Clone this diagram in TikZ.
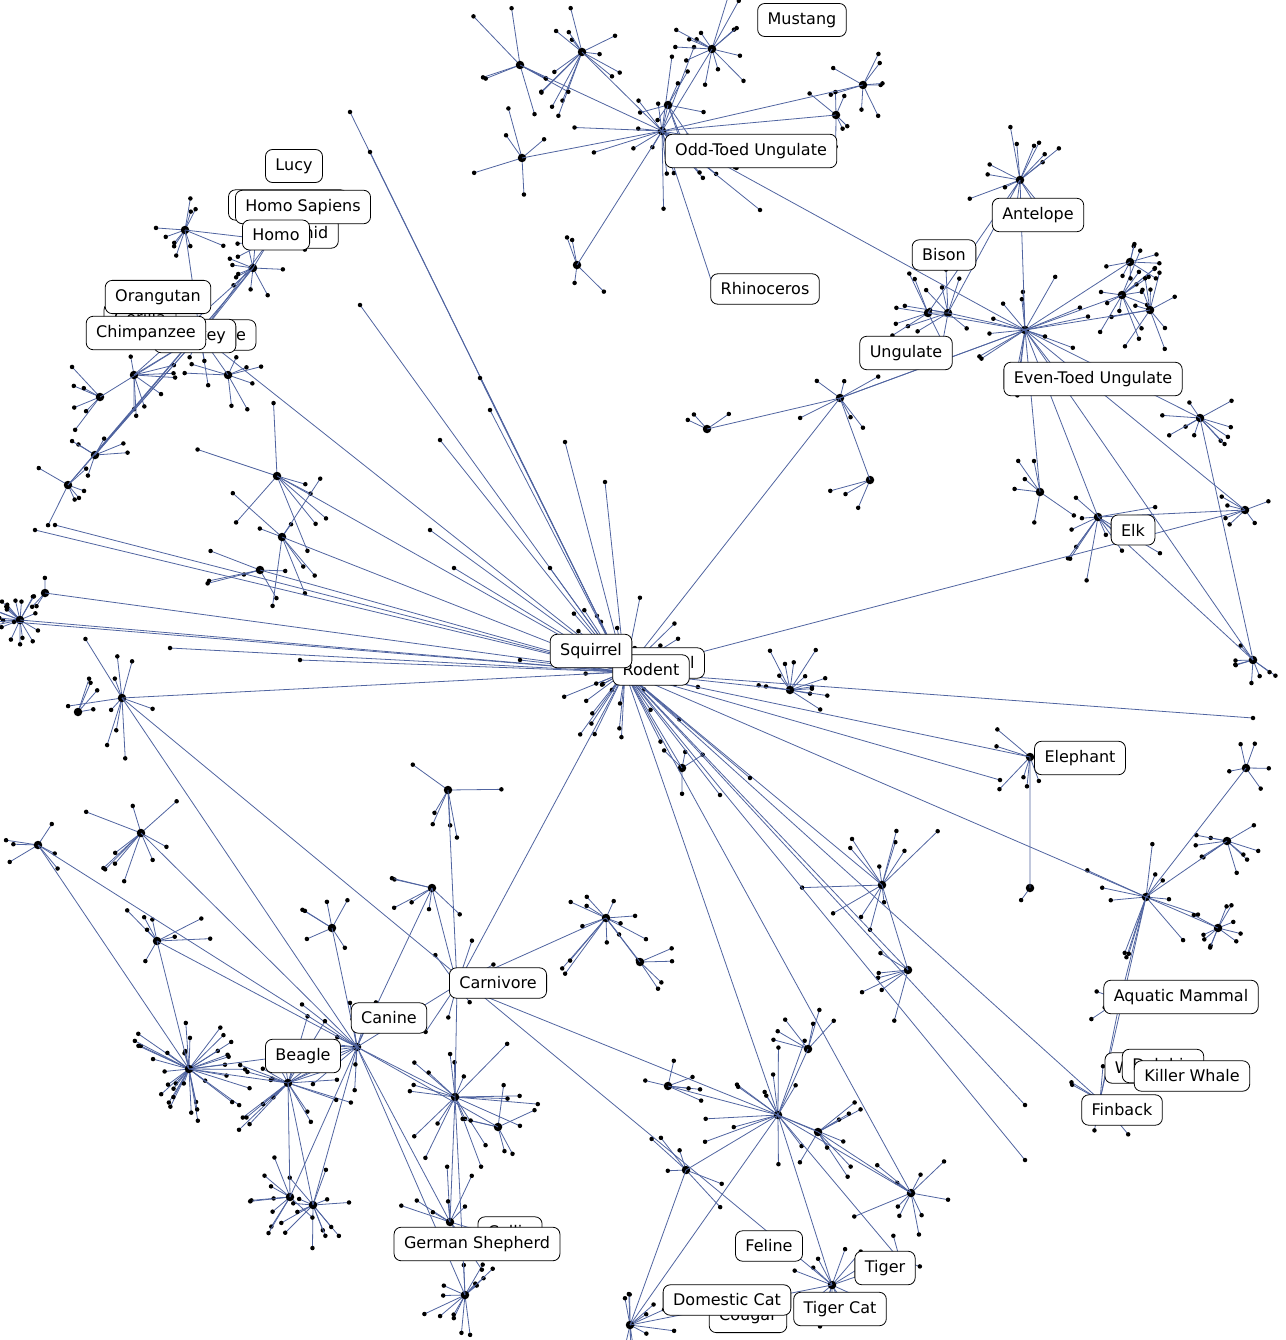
\documentclass[tikz,border=0pt]{standalone}
\usepackage{fontspec}
\setmainfont{DejaVu Sans}
\begin{document}
\begin{tikzpicture}[x=1pt,y=-1pt,
 edge/.style={draw={rgb,255:red,80;green,100;blue,160},line width=0.8pt},
 leaf/.style={circle,fill=black,inner sep=0pt,minimum size=4.5pt},
 hub/.style={circle,fill=black,inner sep=0pt,minimum size=8.5pt},
 lab/.style={draw=black,fill=white,rounded corners=7pt,line width=0.8pt,font=\fontsize{16}{18}\selectfont,inner xsep=10pt,inner ysep=9pt}]
\useasboundingbox (0,0) rectangle (1285,1340);
\pgfmathsetseed{7}
\newcommand\hubc[5]{\coordinate (#1) at (#2,#3);
 \foreach \i in {1,...,#4}{\pgfmathsetmacro\aa{rnd*360}\pgfmathsetmacro\rr{15+rnd*(#5-15)}
 \draw[edge] (#1) -- ++(\aa:\rr) node[leaf]{};}
 \node[hub] at (#1) {};}
% hubs
\hubc{rod}{625}{672}{40}{80}
\hubc{otu}{662}{131}{20}{90}
\hubc{h1}{712}{49}{14}{60}
\hubc{h2}{582}{52}{14}{70}
\hubc{h3}{520}{65}{8}{70}
\hubc{h4}{668}{105}{8}{45}
\hubc{h5}{863}{85}{8}{35}
\hubc{h6}{836}{115}{6}{35}
\hubc{h7}{522}{158}{5}{70}
\hubc{h8}{577}{265}{4}{45}
\hubc{etu}{1025}{330}{16}{70}
\hubc{e1}{1122}{295}{14}{50}
\hubc{e2}{1150}{310}{10}{45}
\hubc{e3}{948}{313}{10}{45}
\hubc{e4}{928}{313}{6}{45}
\hubc{e5}{1200}{418}{10}{40}
\hubc{elk}{1098}{517}{12}{80}
\hubc{e6}{1253}{660}{8}{35}
\hubc{e7}{1040}{492}{6}{45}
\hubc{e8}{840}{398}{6}{45}
\hubc{e9}{707}{429}{3}{45}
\hubc{e10}{870}{480}{3}{45}
\hubc{e12}{1020}{180}{14}{60}
\hubc{e13}{1130}{262}{8}{35}
\hubc{e14}{1245}{510}{6}{40}
\hubc{p1}{185}{230}{10}{45}
\hubc{p2}{253}{268}{10}{45}
\hubc{p3}{228}{375}{8}{45}
\hubc{p4}{134}{375}{8}{45}
\hubc{p5}{95}{455}{6}{50}
\hubc{p6}{68}{485}{6}{45}
\hubc{p7}{100}{397}{6}{45}
\hubc{l1}{20}{620}{22}{28}
\hubc{l2}{122}{698}{10}{70}
\hubc{l3}{78}{712}{4}{45}
\hubc{l4}{277}{476}{8}{90}
\hubc{l5}{282}{537}{8}{70}
\hubc{l6}{260}{570}{6}{60}
\hubc{l7}{448}{790}{6}{55}
\hubc{l8}{45}{593}{3}{20}
\hubc{car}{457}{985}{6}{60}
\hubc{can}{357}{1047}{12}{70}
\hubc{c1}{189}{1069}{36}{65}
\hubc{c2}{288}{1083}{24}{75}
\hubc{c3}{313}{1205}{14}{50}
\hubc{c4}{290}{1197}{10}{45}
\hubc{c5}{455}{1097}{18}{85}
\hubc{c6}{498}{1127}{6}{45}
\hubc{c7}{465}{1295}{14}{45}
\hubc{c8}{141}{833}{10}{70}
\hubc{c9}{157}{941}{8}{55}
\hubc{c10}{332}{928}{6}{35}
\hubc{c11}{432}{888}{6}{45}
\hubc{c12}{38}{845}{6}{35}
\hubc{c13}{450}{1222}{10}{65}
\hubc{fel}{778}{1115}{14}{90}
\hubc{f1}{818}{1132}{8}{55}
\hubc{f2}{911}{1193}{10}{65}
\hubc{f3}{686}{1170}{6}{55}
\hubc{f4}{808}{1049}{6}{45}
\hubc{f5}{668}{1086}{6}{45}
\hubc{f6}{832}{1285}{14}{45}
\hubc{f7}{630}{1325}{12}{45}
\hubc{f8}{900}{1260}{4}{35}
\hubc{m1}{606}{918}{14}{70}
\hubc{m2}{640}{962}{4}{35}
\hubc{m3}{882}{885}{12}{80}
\hubc{m4}{908}{970}{6}{65}
\hubc{m5}{790}{690}{14}{50}
\hubc{m6}{682}{768}{4}{35}
\hubc{a1}{1146}{897}{12}{65}
\hubc{a2}{1227}{841}{10}{35}
\hubc{a3}{1218}{928}{10}{28}
\hubc{a4}{1246}{768}{5}{28}
\hubc{ele}{1030}{757}{6}{45}
\hubc{ele2}{1030}{888}{1}{15}
\hubc{aq}{1120}{1000}{3}{45}
\hubc{wh}{1100}{1100}{5}{45}
\hubc{prim}{200}{335}{6}{55}
\hubc{hom}{270}{240}{6}{45}
% long edges
\foreach \t in {h2,h1,h3,h4,h5,h6,h7,h8}{\draw[edge] (otu) -- (\t);}
\coordinate (rh) at (715,292);
\draw[edge] (otu) -- (rh) (otu) -- (760,210) node[leaf]{};
\foreach \t in {e1,e2,e3,e4,e5,elk,e6,e7,e8,e12,e13,e14}{\draw[edge] (etu) -- (\t);}
\foreach \t in {e9,e10,etu}{\draw[edge] (e8) -- (\t);}
\draw[edge] (otu) -- (etu);
\draw[edge] (elk) -- (e6) (elk) -- (e14) (e5) -- (e6) (e12) -- (e3) (e12) -- (e4) (e3) -- (e4);
\foreach \t in {p1,p2,p3,p4,p5,p6,p7,hom}{\draw[edge] (prim) -- (\t);}
\draw[edge] (p2) -- (p4) (p2) -- (p5) (p2) -- (p6) (hom) -- (p1) (hom)--(p2);
\foreach \t in {l1,l2,l4,l5,l6,l8,prim,m5,m6,ele,car,e8,m3,m4,fel,f2,a1,wh,e14}{\draw[edge] (rod) -- (\t);}
\foreach \p in {(350,112),(370,152),(440,440),(480,378),(490,410),(360,305),(300,660),(35,530),(55,525),(170,648),(14,622),(565,442),(605,482),(430,530),(454,568),(1253,718),(1000,780),(1025,1105),(1025,1160),(750,778),(720,795),(550,568),(520,660)}
  {\draw[edge] (rod) -- \p node[leaf]{};}
\foreach \t in {can,c5,l7,c11,m1}{\draw[edge] (car) -- (\t);}
\foreach \t in {c1,c2,c3,c4,c5,c6,c7,c8,c9,c10,c11,c12,c13,l2}{\draw[edge] (can) -- (\t);}
\draw[edge] (c2)--(c1) (c2)--(c3) (c2)--(c4) (c5)--(c7) (c5)--(c13) (c1)--(c9) (c1)--(c12);
\foreach \t in {f1,f2,f3,f4,f5,f6,f7,f8,car}{\draw[edge] (fel) -- (\t);}
\draw[edge] (f2)--(f1) (f3)--(f7) (f6)--(f7) (l2) -- (f6);
\foreach \t in {a2,a3,a4,aq,wh}{\draw[edge] (a1) -- (\t);}
\draw[edge] (ele)--(ele2) (aq)--(wh) (m3)--(m4) (m1)--(m2);
% labels
\node[lab] (lmus) at (802,20) {Mustang};
\node[lab] (lotu) at (751,151) {Odd-Toed Ungulate};
\node[lab] (lrhi) at (765,289) {Rhinoceros};
\node[lab] (lant) at (1038,215) {Antelope};
\node[lab] (lbis) at (944,255) {Bison};
\node[lab] (lung) at (906,353) {Ungulate};
\node[lab] (letu) at (1093,379) {Even-Toed Ungulate};
\node[lab] (lelk) at (1133,530) {Elk};
\node[lab] (lluc) at (294,166) {Lucy};
\node[lab] (lhid) at (295,233) {Hominid};
\node[lab] (lnea) at (288,205) {Neanderthal};
\node[lab] (lhs) at (303,207) {Homo Sapiens};
\node[lab] (lhom) at (276,235) {Homo};
\node[lab] (lpri) at (215,335) {Primate};
\node[lab] (lmon) at (195,336) {Monkey};
\node[lab] (lgor) at (140,318) {Gorilla};
\node[lab] (lora) at (158,297) {Orangutan};
\node[lab] (lchi) at (146,333) {Chimpanzee};
\node[lab] (lmam) at (660,663) {Mammal};
\node[lab] (lrod) at (651,670) {Rodent};
\node[lab] (lsq) at (591,651) {Squirrel};
\node[lab] (lele) at (1080,758) {Elephant};
\node[lab] (laq) at (1181,997) {Aquatic Mammal};
\node[lab] (lwha) at (1140,1068) {Whale};
\node[lab] (ldol) at (1163,1066) {Dolphin};
\node[lab] (lkw) at (1192,1076) {Killer Whale};
\node[lab] (lfin) at (1122,1110) {Finback};
\node[lab] (lcar) at (498,983) {Carnivore};
\node[lab] (lcan) at (389,1018) {Canine};
\node[lab] (lbea) at (303,1056) {Beagle};
\node[lab] (lcol) at (510,1232) {Collie};
\node[lab] (lgs) at (477,1244) {German Shepherd};
\node[lab] (lfel) at (769,1246) {Feline};
\node[lab] (ltig) at (885,1268) {Tiger};
\node[lab] (lcou) at (748,1316) {Cougar};
\node[lab] (ldc) at (727,1300) {Domestic Cat};
\node[lab] (ltc) at (840,1309) {Tiger Cat};
\end{tikzpicture}
\end{document}
